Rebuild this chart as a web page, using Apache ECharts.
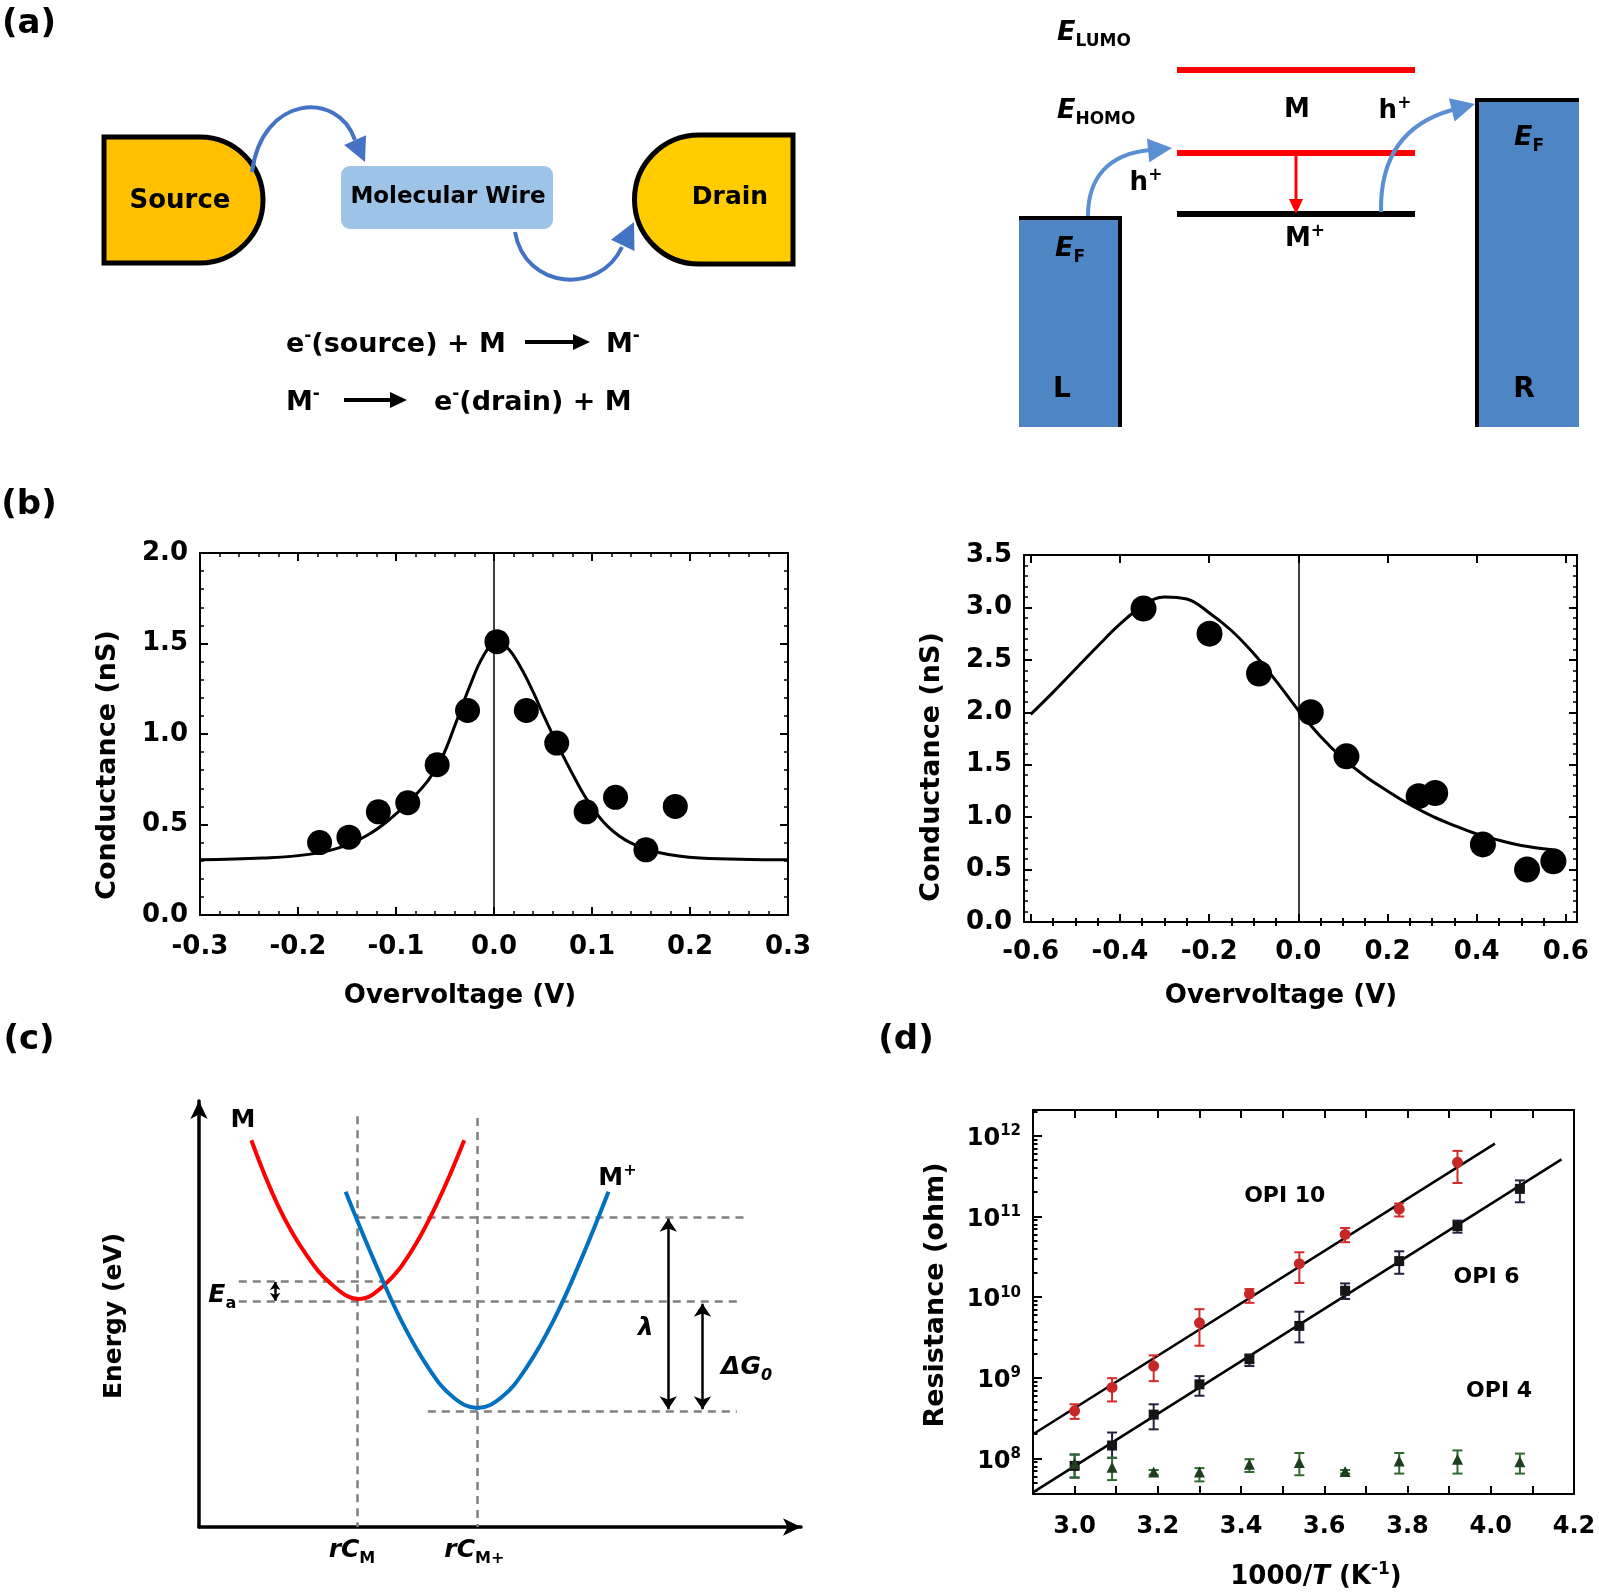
<!DOCTYPE html>
<html>
<head>
<meta charset="utf-8">
<script src="https://cdn.jsdelivr.net/npm/echarts@6/dist/echarts.min.js"></script>
<style>
html, body { margin: 0; padding: 0; background: #fff; }
#main { width: 1599px; height: 1594px; }
</style>
</head>
<body>
<div id="main"></div>
<script>
var FONT = 'DejaVu Sans';

// (b) left : conductance vs overvoltage
var bLeftV = [-0.178, -0.148, -0.118, -0.088, -0.058, -0.027, 0.003, 0.033, 0.064, 0.094, 0.124, 0.155, 0.185];
var bLeftG = [0.40, 0.43, 0.57, 0.62, 0.83, 1.13, 1.51, 1.13, 0.95, 0.57, 0.65, 0.36, 0.60];
var bLeftFitV = [-0.30, -0.236, -0.189, -0.156, -0.128, -0.105, -0.086, -0.067, -0.053, -0.039, -0.025, -0.011, 0.002, 0.013, 0.027, 0.041, 0.050, 0.064, 0.083, 0.097, 0.116, 0.139, 0.168, 0.21, 0.30];
var bLeftFitG = [0.305, 0.315, 0.335, 0.375, 0.445, 0.535, 0.630, 0.745, 0.870, 1.060, 1.260, 1.430, 1.500, 1.480, 1.370, 1.220, 1.110, 0.950, 0.750, 0.620, 0.490, 0.400, 0.345, 0.315, 0.305];

// (b) right
var bRightV = [-0.347, -0.199, -0.088, 0.028, 0.108, 0.270, 0.307, 0.414, 0.513, 0.572];
var bRightG = [2.99, 2.75, 2.37, 2.00, 1.58, 1.20, 1.23, 0.74, 0.50, 0.58];
var bRightFitV = [-0.60, -0.55, -0.50, -0.45, -0.40, -0.35, -0.30, -0.25, -0.20, -0.15, -0.10, -0.05, 0.00, 0.05, 0.10, 0.15, 0.20, 0.25, 0.30, 0.35, 0.40, 0.45, 0.50, 0.57];
var bRightFitG = [1.98, 2.19, 2.41, 2.63, 2.84, 3.01, 3.10, 3.08, 2.95, 2.78, 2.56, 2.30, 2.02, 1.77, 1.56, 1.39, 1.25, 1.12, 1.01, 0.92, 0.84, 0.78, 0.73, 0.69];
var bRightXLabels = [-0.6, -0.4, -0.2, 0, 0.2, 0.4, 0.6];

// (c) Marcus parabolas (arbitrary units)
var cMX = [0.856, 1.30, 1.75, 2.18, 2.607, 3.03, 3.46, 3.90, 4.335];
var cME = [8.87, 7.35, 6.25, 5.55, 5.23, 5.55, 6.30, 7.45, 8.87];
var cMpX = [2.397, 2.85, 3.30, 3.75, 4.15, 4.553, 4.95, 5.35, 5.80, 6.25, 6.693];
var cMpE = [7.69, 6.15, 4.75, 3.65, 2.98, 2.73, 2.98, 3.65, 4.75, 6.15, 7.69];
var cGuides = [[2.59, 9.42, 2.59, 0], [4.55, 9.38, 4.55, 0], [2.59, 7.11, 8.95, 7.11], [0.65, 5.64, 3.0, 5.64], [0.65, 5.17, 8.79, 5.17], [3.74, 2.66, 8.79, 2.66]];
var cArrows = [[7.67, 7.07, 7.67, 2.70], [8.23, 5.12, 8.23, 2.70]];
var cEaArrow = [1.245, 5.62, 1.245, 5.19];

// (d) resistance vs 1000/T
var dX10 = [3.00, 3.09, 3.19, 3.30, 3.42, 3.54, 3.65, 3.78, 3.92];
var dR10 = [3.9e8, 7.6e8, 1.4e9, 4.8e9, 1.1e10, 2.6e10, 6.0e10, 1.23e11, 4.7e11];
var dR10Lo = [3.1e8, 5.1e8, 9.1e8, 2.5e9, 8.5e9, 1.5e10, 4.8e10, 1.0e11, 2.6e11];
var dR10Hi = [4.7e8, 9.9e8, 1.9e9, 7.1e9, 1.26e10, 3.6e10, 7.2e10, 1.45e11, 6.5e11];
var dX6 = [3.00, 3.09, 3.19, 3.30, 3.42, 3.54, 3.65, 3.78, 3.92, 4.07];
var dR6 = [8.1e7, 1.45e8, 3.5e8, 8.3e8, 1.7e9, 4.4e9, 1.2e10, 2.8e10, 7.6e10, 2.2e11];
var dR6Lo = [5.8e7, 1.02e8, 2.3e8, 6.0e8, 1.4e9, 2.75e9, 9.5e9, 1.95e10, 6.3e10, 1.5e11];
var dR6Hi = [1.12e8, 2.1e8, 4.7e8, 1.05e9, 1.95e9, 6.6e9, 1.48e10, 3.7e10, 8.9e10, 2.8e11];
var dX4 = [3.00, 3.09, 3.19, 3.30, 3.42, 3.54, 3.65, 3.78, 3.92, 4.07];
var dR4 = [8.7e7, 7.8e7, 6.8e7, 6.8e7, 8.5e7, 8.9e7, 6.9e7, 9.3e7, 9.8e7, 9.1e7];
var dR4Lo = [5.8e7, 5.4e7, 6.3e7, 5.2e7, 6.8e7, 6.2e7, 6.5e7, 6.5e7, 6.5e7, 6.5e7];
var dR4Hi = [1.12e8, 1.02e8, 7.2e7, 7.6e7, 9.8e7, 1.17e8, 7.2e7, 1.17e8, 1.26e8, 1.15e8];
var dFit10X = [2.90, 4.01], dFit10R = [2.0e8, 8.0e11];
var dFit6X = [2.90, 4.17], dFit6R = [3.8e7, 5.1e11];
var dXLabels = [3.0, 3.2, 3.4, 3.6, 3.8, 4.0, 4.2];
var dYDecades = [8, 9, 10, 11, 12];

function pairs(a, b) { return a.map(function (v, i) { return [v, b[i]]; }); }
function lg(v) { return Math.log10(v); }
function stepList(a, b, st) {
  var out = [];
  for (var v = a; v <= b + 1e-9; v += st) out.push(Math.round(v * 1000) / 1000);
  return out;
}
function fmt1(v) { return (Math.abs(v) < 1e-9 ? 0 : v).toFixed(1); }

var bRightMinor = stepList(-0.6, 0.6, 0.05).filter(function (v) { return bRightXLabels.indexOf(v) < 0; });
var dXTicks = stepList(3.0, 4.2, 0.1);
var dYMinor = [];
for (var n = 7; n <= 12; n++) {
  for (var k = 2; k <= 9; k++) {
    var e = n + Math.log10(k);
    if (e > 7.56 && e < 12.32) dYMinor.push(e);
  }
}

// rich text styles: n normal, i italic, sup, sub
function rich(L, color) {
  var s = Math.round(L * 0.64);
  var P = Math.max(0, Math.round(s / 2 - 0.2 * L));
  var c = color || '#000';
  function m(o) {
    var r = {fontFamily: FONT, fontWeight: 'bold', color: c, fill: c, opacity: 1};
    for (var key in o) r[key] = o[key];
    return r;
  }
  var subPad = Math.round(P + 0.84 * L - 0.5 * s);
  return {
    n: m({fontSize: L, lineHeight: L, verticalAlign: 'top', padding: [P, 0, 0, 0]}),
    i: m({fontSize: L, lineHeight: L, verticalAlign: 'top', padding: [P, 0, 0, 0], fontStyle: 'italic'}),
    sup: m({fontSize: s, lineHeight: s, verticalAlign: 'top'}),
    sub: m({fontSize: s, lineHeight: s, verticalAlign: 'top', padding: [subPad, 0, 0, 0]}),
    subi: m({fontSize: s, lineHeight: s, verticalAlign: 'top', padding: [subPad, 0, 0, 0], fontStyle: 'italic'})
  };
}

function gText(x, y, text, L, opt) {
  opt = opt || {};
  return {
    type: 'text', x: x, y: y, rotation: opt.rot || 0, z: 50,
    style: {
      text: text, rich: rich(L, opt.color),
      fontFamily: FONT, fontWeight: 'bold', fontSize: L, fill: opt.color || '#000',
      textAlign: opt.align || 'center', textVerticalAlign: 'middle',
      align: opt.align || 'center', verticalAlign: 'middle'
    }
  };
}
function head(tx, ty, dx, dy, len, half, color) {
  var m = Math.sqrt(dx * dx + dy * dy);
  dx /= m; dy /= m;
  var bx = tx - dx * len, by = ty - dy * len;
  return {type: 'polygon', z: 40, shape: {points: [[tx, ty], [bx - dy * half, by + dx * half], [bx + dy * half, by - dx * half]]}, style: {fill: color}};
}
function seg(x1, y1, x2, y2, color, w) {
  return {type: 'line', z: 30, shape: {x1: x1, y1: y1, x2: x2, y2: y2}, style: {stroke: color, lineWidth: w}};
}
function curve(p, color, w) {
  return {type: 'bezierCurve', z: 30, shape: {x1: p[0], y1: p[1], cpx1: p[2], cpy1: p[3], cpx2: p[4], cpy2: p[5], x2: p[6], y2: p[7]}, style: {stroke: color, lineWidth: w, fill: 'none'}};
}

var gold = '#FFC000', gold2 = '#FFCC00', wire = '#9DC3E6', blueA = '#4472C4', blueB = '#5B8FD3', bar = '#4E85C5', red = '#FF0000';

var gfx = [
  gText(29, 24, '(a)', 34), gText(29, 505, '(b)', 34), gText(29, 1040, '(c)', 34), gText(906, 1040, '(d)', 34),

  // source electrode
  {type: 'rect', shape: {x: 104, y: 137, width: 97, height: 126}, style: {fill: gold}},
  {type: 'sector', shape: {cx: 200, cy: 200, r: 63, r0: 0, startAngle: -Math.PI / 2, endAngle: Math.PI / 2, clockwise: true}, style: {fill: gold}},
  {type: 'polyline', shape: {points: [[200, 137], [104, 137], [104, 263], [200, 263]]}, style: {stroke: '#000', lineWidth: 5, fill: 'none'}},
  {type: 'arc', shape: {cx: 200, cy: 200, r: 63, startAngle: -Math.PI / 2, endAngle: Math.PI / 2, clockwise: true}, style: {stroke: '#000', lineWidth: 5, fill: 'none'}},
  gText(180, 201, 'Source', 26),

  // molecular wire
  {type: 'rect', shape: {x: 341, y: 166, width: 212, height: 63, r: 9}, style: {fill: wire}},
  gText(448, 197, 'Molecular Wire', 23),

  // drain electrode
  {type: 'rect', shape: {x: 699, y: 135, width: 94, height: 129}, style: {fill: gold2}},
  {type: 'sector', shape: {cx: 699, cy: 199.5, r: 64.5, r0: 0, startAngle: Math.PI / 2, endAngle: Math.PI * 1.5, clockwise: true}, style: {fill: gold2}},
  {type: 'polyline', shape: {points: [[699, 135], [793, 135], [793, 264], [699, 264]]}, style: {stroke: '#000', lineWidth: 5, fill: 'none'}},
  {type: 'arc', shape: {cx: 699, cy: 199.5, r: 64.5, startAngle: Math.PI / 2, endAngle: Math.PI * 1.5, clockwise: true}, style: {stroke: '#000', lineWidth: 5, fill: 'none'}},
  gText(730, 197, 'Drain', 25),

  // electron hopping arrows
  curve([252, 172, 262, 95, 338, 90, 355, 140], blueA, 4),
  head(365, 162, 10, 22, 24, 12, blueA),
  curve([515, 232, 525, 290, 600, 295, 622, 247], blueA, 4),
  head(634, 222, 12, -25, 26, 13, blueA),

  // reaction equations
  gText(286, 342, '{n|e}{sup|-}{n|(source) + M}', 27, {align: 'left'}),
  seg(525, 342, 574, 342, '#000', 4), head(590, 342, 1, 0, 17, 8, '#000'),
  gText(606, 342, '{n|M}{sup|-}', 27, {align: 'left'}),
  gText(286, 400, '{n|M}{sup|-}', 27, {align: 'left'}),
  seg(344, 400, 391, 400, '#000', 4), head(407, 400, 1, 0, 17, 8, '#000'),
  gText(434, 400, '{n|e}{sup|-}{n|(drain) + M}', 27, {align: 'left'}),

  // energy level diagram
  {type: 'rect', shape: {x: 1019, y: 218, width: 101, height: 209}, style: {fill: bar}},
  seg(1019, 218, 1122, 218, '#000', 4), seg(1120, 216, 1120, 427, '#000', 4),
  {type: 'rect', shape: {x: 1477, y: 100, width: 102, height: 327}, style: {fill: bar}},
  seg(1475, 100, 1579, 100, '#000', 4), seg(1477, 98, 1477, 427, '#000', 4),
  seg(1177, 70, 1415, 70, red, 6),
  seg(1177, 153, 1415, 153, red, 6),
  seg(1177, 214, 1415, 214, '#000', 6),
  seg(1296, 156, 1296, 201, red, 3), head(1296, 214, 0, 1, 15, 7, red),
  curve([1088, 216, 1088, 178, 1108, 154, 1150, 150], blueB, 4),
  head(1172, 148, 1, -0.1, 24, 12, blueB),
  curve([1381, 212, 1380, 160, 1402, 124, 1452, 110], blueB, 4),
  head(1475, 104, 1, -0.25, 24, 12, blueB),
  gText(1057, 30, '{i|E}{sub|LUMO}', 27, {align: 'left'}),
  gText(1057, 108, '{i|E}{sub|HOMO}', 27, {align: 'left'}),
  gText(1297, 110, 'M', 26),
  gText(1395, 108, '{n|h}{sup|+}', 26),
  gText(1146, 180, '{n|h}{sup|+}', 26),
  gText(1305, 236, '{n|M}{sup|+}', 26),
  gText(1070, 246, '{i|E}{sub|F}', 27),
  gText(1062, 390, 'L', 28),
  gText(1529, 135, '{i|E}{sub|F}', 27),
  gText(1524, 390, 'R', 28),

  // axis titles
  gText(460, 996, 'Overvoltage (V)', 26),
  gText(108, 765, 'Conductance (nS)', 27, {rot: Math.PI / 2}),
  gText(1281, 996, 'Overvoltage (V)', 26),
  gText(932, 767, 'Conductance (nS)', 27, {rot: Math.PI / 2}),
  gText(114, 1316, 'Energy (eV)', 25, {rot: Math.PI / 2}),
  gText(936, 1295, 'Resistance (ohm)', 27, {rot: Math.PI / 2}),
  gText(1316, 1574, '{n|1000/}{i|T}{n| (K}{sup|-1}{n|)}', 26)
];

function ax(gi, pos, min, max, o) {
  var a = {
    type: 'value', gridIndex: gi, position: pos, min: min, max: max,
    axisLine: {show: true, onZero: false, lineStyle: {color: '#000', width: 2}},
    axisTick: {show: true, inside: true, length: 8, lineStyle: {color: '#000', width: 2}},
    minorTick: {show: false},
    axisLabel: {show: false},
    splitLine: {show: false}, minorSplitLine: {show: false}
  };
  o = o || {};
  for (var key in o) a[key] = o[key];
  return a;
}
function lab(size, extra) {
  var l = {show: true, inside: false, margin: 12, fontFamily: FONT, fontWeight: 'bold', fontSize: size, color: '#000', formatter: fmt1, showMinLabel: true, showMaxLabel: true};
  extra = extra || {};
  for (var key in extra) l[key] = extra[key];
  return l;
}
var minor5 = {show: true, splitNumber: 5, length: 4, lineStyle: {color: '#000', width: 1.5}};
function ticks(len, vals, show) {
  var t = {show: show !== false, inside: true, length: len, lineStyle: {color: '#000', width: 2}};
  if (vals) t.customValues = vals;
  return t;
}

var xAxes = [
  ax(0, 'bottom', -0.3, 0.3, {interval: 0.1, minorTick: minor5, axisLabel: lab(26, {margin: 19})}),
  ax(0, 'top', -0.3, 0.3, {interval: 0.1, minorTick: minor5}),
  ax(1, 'bottom', -0.615, 0.625, {axisTick: ticks(8, bRightXLabels), axisLabel: lab(26, {customValues: bRightXLabels, margin: 17})}),
  ax(1, 'bottom', -0.615, 0.625, {axisLine: {show: false}, axisTick: ticks(4, bRightMinor)}),
  ax(1, 'top', -0.615, 0.625, {axisTick: ticks(8, bRightXLabels)}),
  ax(1, 'top', -0.615, 0.625, {axisLine: {show: false}, axisTick: ticks(4, bRightMinor)}),
  {type: 'value', gridIndex: 2, position: 'bottom', min: 0, max: 9.84,
    axisLine: {show: true, onZero: false, symbol: ['none', 'arrow'], symbolSize: [13, 18], lineStyle: {color: '#000', width: 3.5}},
    axisTick: {show: false}, axisLabel: {show: false}, splitLine: {show: false}},
  ax(3, 'bottom', 2.9, 4.2, {axisTick: ticks(8, dXTicks), axisLabel: lab(24, {customValues: dXLabels, margin: 21})}),
  ax(3, 'top', 2.9, 4.2, {axisTick: ticks(8, dXTicks)})
];
var yAxes = [
  ax(0, 'left', 0, 2, {interval: 0.5, minorTick: minor5, axisLabel: lab(26)}),
  ax(0, 'right', 0, 2, {interval: 0.5, minorTick: minor5}),
  ax(1, 'left', 0, 3.5, {interval: 0.5, minorTick: minor5, axisLabel: lab(26)}),
  ax(1, 'right', 0, 3.5, {interval: 0.5, minorTick: minor5}),
  {type: 'value', gridIndex: 2, position: 'left', min: 0, max: 9.77,
    axisLine: {show: true, onZero: false, symbol: ['none', 'arrow'], symbolSize: [13, 18], lineStyle: {color: '#000', width: 3.5}},
    axisTick: {show: false}, axisLabel: {show: false}, splitLine: {show: false}},
  ax(3, 'left', 7.56, 12.32, {axisTick: ticks(9, dYDecades), axisLabel: lab(24, {customValues: dYDecades, formatter: function (v) { return '{n|10}{sup|' + Math.round(v) + '}'; }, rich: rich(24)})}),
  ax(3, 'left', 7.56, 12.32, {axisLine: {show: false}, axisTick: ticks(4.5, dYMinor)}),
  ax(3, 'right', 7.56, 12.32, {axisTick: {show: false}})
];

function labelSeries(xi, yi, items, L) {
  return {
    type: 'scatter', xAxisIndex: xi, yAxisIndex: yi, silent: true, clip: false, z: 20,
    symbolSize: 1, itemStyle: {color: 'rgba(0,0,0,0)', opacity: 1},
    label: {show: true, position: 'inside', rich: rich(L), fontFamily: FONT, fontWeight: 'bold', fontSize: L, color: '#000', opacity: 1,
      formatter: function (p) { return p.data.t; }},
    data: items.map(function (it) { return {value: it.v, t: it.t}; })
  };
}

function errSeries(xs, lo, hi, color) {
  return {
    type: 'custom', xAxisIndex: 7, yAxisIndex: 5, z: 3, silent: true,
    data: xs.map(function (x, i) { return [x, lg(lo[i]), lg(hi[i])]; }),
    encode: {x: 0, y: [1, 2]},
    renderItem: function (params, api) {
      var a = api.coord([api.value(0), api.value(1)]);
      var b = api.coord([api.value(0), api.value(2)]);
      var w = 5, st = {stroke: color, lineWidth: 2};
      return {type: 'group', children: [
        {type: 'line', shape: {x1: a[0], y1: a[1], x2: b[0], y2: b[1]}, style: st},
        {type: 'line', shape: {x1: a[0] - w, y1: a[1], x2: a[0] + w, y2: a[1]}, style: st},
        {type: 'line', shape: {x1: b[0] - w, y1: b[1], x2: b[0] + w, y2: b[1]}, style: st}
      ]};
    }
  };
}
function logPairs(xs, rs) { return xs.map(function (x, i) { return [x, lg(rs[i])]; }); }

var dash = {color: '#808080', width: 2.5, type: [8, 6]};
function dot(color) { return {color: color, opacity: 1}; }

var series = [
  // (b) left
  {type: 'line', xAxisIndex: 0, yAxisIndex: 0, data: pairs(bLeftFitV, bLeftFitG), smooth: 0.4, symbol: 'none', lineStyle: {color: '#000', width: 3}, z: 3},
  {type: 'scatter', xAxisIndex: 0, yAxisIndex: 0, data: pairs(bLeftV, bLeftG), symbolSize: 25, itemStyle: dot('#000'), z: 4,
    markLine: {silent: true, symbol: 'none', label: {show: false}, lineStyle: {color: '#000', width: 1.5, type: 'solid'}, data: [{xAxis: 0}]}},
  // (b) right
  {type: 'line', xAxisIndex: 2, yAxisIndex: 2, data: pairs(bRightFitV, bRightFitG), smooth: 0.4, symbol: 'none', lineStyle: {color: '#000', width: 3}, z: 3},
  {type: 'scatter', xAxisIndex: 2, yAxisIndex: 2, data: pairs(bRightV, bRightG), symbolSize: 26, itemStyle: dot('#000'), z: 4,
    markLine: {silent: true, symbol: 'none', label: {show: false}, lineStyle: {color: '#000', width: 1.5, type: 'solid'}, data: [{xAxis: 0}]}},
  // (c)
  {type: 'line', xAxisIndex: 6, yAxisIndex: 4, data: pairs(cMX, cME), smooth: 0.4, symbol: 'none', lineStyle: {color: red, width: 4}, z: 5,
    markLine: {silent: true, symbol: ['arrow', 'arrow'], symbolSize: 13, label: {show: false}, lineStyle: {color: '#000', width: 2.5, type: 'solid'},
      data: cArrows.map(function (a) { return [{coord: [a[0], a[1]]}, {coord: [a[2], a[3]]}]; }).concat([
        [{coord: [cEaArrow[0], cEaArrow[1]], symbolSize: 8}, {coord: [cEaArrow[2], cEaArrow[3]], symbolSize: 8}]
      ])}},
  {type: 'line', xAxisIndex: 6, yAxisIndex: 4, data: pairs(cMpX, cMpE), smooth: 0.4, symbol: 'none', lineStyle: {color: '#0070C0', width: 4}, z: 5,
    markLine: {silent: true, symbol: 'none', label: {show: false}, lineStyle: dash, z: 2,
      data: cGuides.map(function (g) { return [{coord: [g[0], g[1]]}, {coord: [g[2], g[3]]}]; })}},
  labelSeries(6, 4, [
    {v: [0.72, 9.40], t: '{n|M}'},
    {v: [6.84, 8.06], t: '{n|M}{sup|+}'},
    {v: [0.38, 5.38], t: '{i|E}{sub|a}'},
    {v: [7.30, 4.62], t: '{i|λ}'},
    {v: [8.95, 3.72], t: '{i|ΔG}{subi|0}'},
    {v: [2.50, -0.47], t: '{i|rC}{sub|M}'},
    {v: [4.50, -0.47], t: '{i|rC}{sub|M+}'}
  ], 25),
  // (d)
  {type: 'line', xAxisIndex: 7, yAxisIndex: 5, data: logPairs(dFit10X, dFit10R), symbol: 'none', lineStyle: {color: '#000', width: 2.5}, z: 2},
  {type: 'line', xAxisIndex: 7, yAxisIndex: 5, data: logPairs(dFit6X, dFit6R), symbol: 'none', lineStyle: {color: '#000', width: 2.5}, z: 2},
  errSeries(dX10, dR10Lo, dR10Hi, '#D42A2A'),
  errSeries(dX6, dR6Lo, dR6Hi, '#22223F'),
  errSeries(dX4, dR4Lo, dR4Hi, '#2F6A2F'),
  {type: 'scatter', xAxisIndex: 7, yAxisIndex: 5, data: logPairs(dX10, dR10), symbol: 'circle', symbolSize: 11, itemStyle: dot('#C62828'), z: 4},
  {type: 'scatter', xAxisIndex: 7, yAxisIndex: 5, data: logPairs(dX6, dR6), symbol: 'rect', symbolSize: 10, itemStyle: dot('#151515'), z: 4},
  {type: 'scatter', xAxisIndex: 7, yAxisIndex: 5, data: logPairs(dX4, dR4), symbol: 'triangle', symbolSize: 11, itemStyle: dot('#1E3F1E'), z: 4},
  labelSeries(7, 5, [
    {v: [3.505, lg(1.8e11)], t: 'OPI 10'},
    {v: [3.99, lg(1.74e10)], t: 'OPI 6'},
    {v: [4.02, lg(6.9e8)], t: 'OPI 4'}
  ], 22)
];

var chart = echarts.init(document.getElementById('main'), null, {renderer: 'canvas', width: 1599, height: 1594});
var option = {
  backgroundColor: '#fff',
  animation: false,
  grid: [
    {left: 200, top: 553, width: 588, height: 362, outerBoundsMode: 'none', containLabel: false},
    {left: 1024, top: 555, width: 553, height: 367, outerBoundsMode: 'none', containLabel: false},
    {left: 199, top: 1101, width: 602, height: 426, outerBoundsMode: 'none', containLabel: false},
    {left: 1033, top: 1110, width: 541, height: 384, outerBoundsMode: 'none', containLabel: false}
  ],
  xAxis: xAxes,
  yAxis: yAxes,
  graphic: {elements: gfx},
  series: series
};
chart.setOption(option);
</script>
</body>
</html>
